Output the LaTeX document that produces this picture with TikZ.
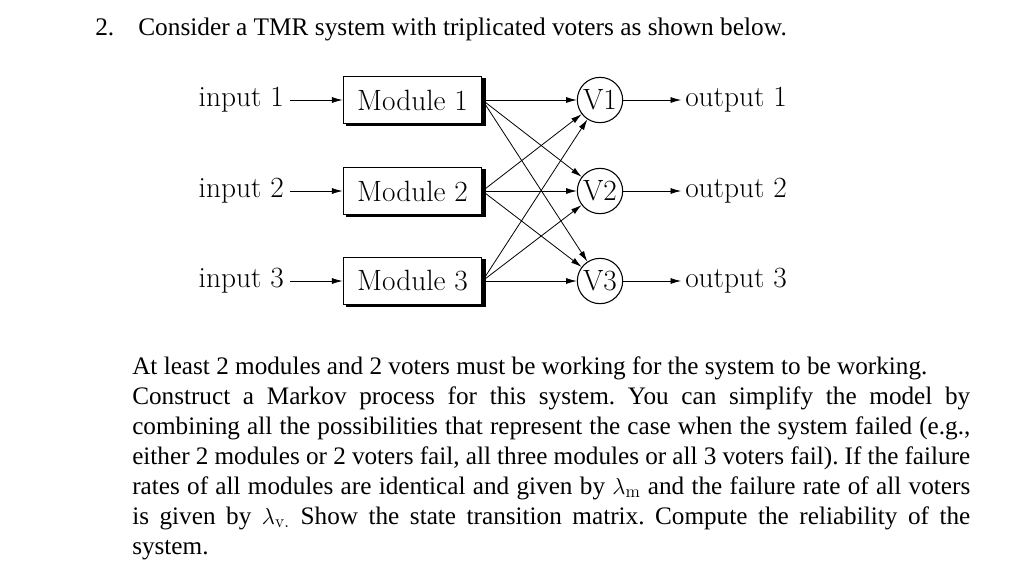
\documentclass[tikz,border=0pt]{standalone}
\usepackage{fontspec}
\newfontfamily\tnr{Liberation Serif}
\usetikzlibrary{arrows.meta}
\begin{document}
\begin{tikzpicture}[x=0.75pt,y=-0.75pt,
  arr/.style={-{Latex[length=8pt,width=4.5pt]},line width=0.6pt},
  modbox/.style={draw,line width=0.8pt,minimum width=104pt,minimum height=35pt,inner sep=0pt,font=\fontsize{22}{26}\selectfont},
  voter/.style={draw,circle,line width=0.8pt,minimum size=34pt,inner sep=0pt,font=\fontsize{22}{26}\selectfont},
  lbl/.style={font=\fontsize{22}{26}\selectfont,inner sep=0pt}]
\useasboundingbox (0,0) rectangle (1024,583);
\node[anchor=west,inner sep=0pt,font=\tnr\fontsize{19}{22}\selectfont] (title) at (95,29) {2.\hspace{0.95em}Consider a TMR system with triplicated voters as shown below.};
\foreach \i/\y in {1/100,2/191,3/281}{
  \fill (346,\y-22) rectangle (486,\y+26);
  \node[modbox,fill=white] (m\i) at (412.5,\y) {Module \i};
  \node[lbl,anchor=east] (in\i) at (284,\y) {input \i};
  \node[voter,fill=white] (v\i) at (600,\y) {V\i};
  \node[lbl,anchor=west] (out\i) at (685,\y) {output \i};
  \draw[arr] (in\i.east)++(6,0) coordinate (s\i) -- (m\i.west);
  \draw[arr] (v\i.east) -- ++(58,0) coordinate (e\i);
}
\foreach \i in {1,2,3}{\foreach \j in {1,2,3}{
  \draw[arr] (m\i.east) -- (v\j);
}}
\node[anchor=north west,inner sep=0pt,text width=628.5pt,align=justify,font=\tnr\frenchspacing\fontsize{18.9}{22.5}\selectfont] (para) at (132,356) {%
At least 2 modules and 2 voters must be working for the system to be working.\\
Construct a Markov process for this system. You can simplify the model by\linebreak
combining all the possibilities that represent the case when the system failed (e.g.,\linebreak
either 2 modules or 2 voters fail, all three modules or all 3 voters fail). If the failure\linebreak
rates of all modules are identical and given by $\lambda_{\mathrm{m}}$ and the failure rate of all voters\linebreak
is given by $\lambda_{\mathrm{v.}}$ Show the state transition matrix. Compute the reliability of the\linebreak
system.};
\end{tikzpicture}
\end{document}
